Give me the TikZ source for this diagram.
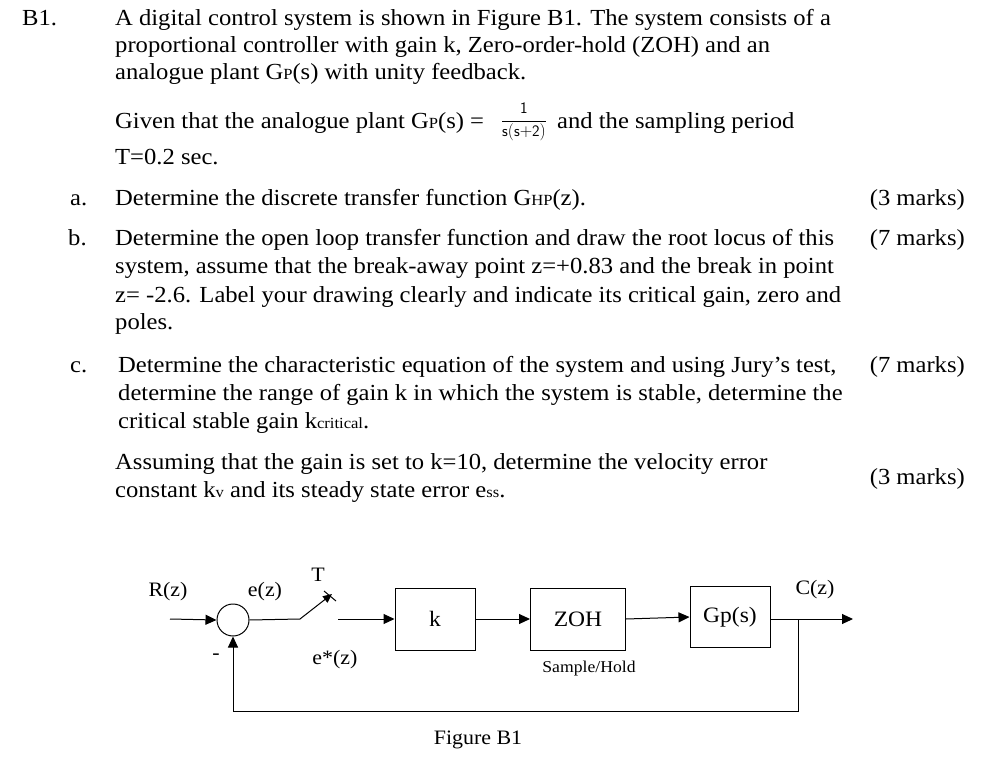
\documentclass[tikz,border=0pt]{standalone}
\usepackage{fontspec}
\setmainfont{Liberation Serif}[FakeStretch=1.07]
\usetikzlibrary{arrows.meta}
\newcommand{\sml}[1]{{\fontsize{15.5}{15}\selectfont #1}}
\begin{document}
\begin{tikzpicture}[x=1pt,y=-1pt,
  txt/.style={anchor=base west,inner sep=0,font=\fontsize{23}{24}\selectfont},
  mk/.style={anchor=base east,inner sep=0,font=\fontsize{23}{24}\selectfont},
  dl/.style={font=\fontsize{20.5}{22}\selectfont,inner sep=0},
  blk/.style={draw,line width=1pt,minimum width=80pt,minimum height=62pt,font=\fontsize{22}{22}\selectfont},
  ar/.style={line width=1pt,-{Triangle[length=11pt,width=10pt]}},
  ln/.style={line width=1pt}]
\useasboundingbox (0,0) rectangle (987,775);
\node[txt] (b1) at (22,26) {B1.};
\node[txt] (l1) at (115,26) {A digital control system is shown in Figure B1. The system consists of a};
\node[txt] (l2) at (115,53) {proportional controller with gain k, Zero-order-hold (ZOH) and an};
\node[txt] (l3) at (115,80) {analogue plant G\sml{P}(s) with unity feedback.};
\node[txt] (l4) at (115,129) {Given that the analogue plant G\sml{P}(s) =};
\node[inner sep=0,font=\fontsize{16}{16}\selectfont\sffamily] (fr) at (524,122) {$\displaystyle\frac{\mathsf{1}}{\mathsf{s(s{+}2)}}$};
\node[txt] (l4b) at (557,129) {and the sampling period};
\node[txt] (l5) at (115,165) {T=0.2 sec.};
\node[txt] (a) at (70,206) {a.};
\node[txt] (at) at (115,206) {Determine the discrete transfer function G\sml{HP}(z).};
\node[mk] (am) at (965,206) {(3 marks)};
\node[txt] (b) at (68,246) {b.};
\node[txt] (b1t) at (115,246) {Determine the open loop transfer function and draw the root locus of this};
\node[mk] (bm) at (965,246) {(7 marks)};
\node[txt] (b2t) at (115,274) {system, assume that the break-away point z=+0.83 and the break in point};
\node[txt] (b3t) at (115,302) {z= -2.6. Label your drawing clearly and indicate its critical gain, zero and};
\node[txt] (b4t) at (115,330) {poles.};
\node[txt] (c) at (70,372) {c.};
\node[txt] (c1t) at (118,372) {Determine the characteristic equation of the system and using Jury's test,};
\node[mk] (cm) at (965,372) {(7 marks)};
\node[txt] (c2t) at (118,400) {determine the range of gain k in which the system is stable, determine the};
\node[txt] (c3t) at (118,428) {critical stable gain k\sml{critical}.};
\node[txt] (d1t) at (115,469) {Assuming that the gain is set to k=10, determine the velocity error};
\node[txt] (d2t) at (115,497) {constant k\sml{v} and its steady state error e\sml{ss}.};
\node[mk] (dm) at (965,484) {(3 marks)};
% diagram
\coordinate (in) at (170,619);
\node[draw,circle,line width=1pt,minimum size=32pt,inner sep=0] (sum) at (233,620) {};
\node[blk] (k) at (435,619) {k};
\node[blk,minimum width=95pt,minimum height=62pt] (zoh) at (578,619) {ZOH};
\node[blk,minimum height=61pt] (gp) at (730,617) {Gp(s)};
\coordinate (s1) at (300,619);
\coordinate (s2) at (332,594);
\coordinate (s3) at (338,619);
\coordinate (tap) at (798,619);
\coordinate (out) at (853,619);
\coordinate (fb1) at (798,711);
\coordinate (fb2) at (233,711);
\draw[ar] (in) -- (sum.west);
\draw[ln] (sum.east) -- (s1);
\draw[ln,-{Triangle[length=9pt,width=8pt]}] (s1) -- (s2);
\draw[ln] (324,591) -- (336,601);
\draw[ar] (s3) -- (k.west);
\draw[ar] (k.east) -- (zoh.west);
\draw[ar] (zoh.east) -- (gp.west);
\draw[ar] (gp.east |- out) -- (out);
\draw[ar] (tap) -- (fb1) -- (fb2) -- (sum.south);
\node[dl] (rz) at (168,592) {R(z)};
\node[dl] (ez) at (265,592) {e(z)};
\node[dl] (tt) at (318,575) {T};
\node[dl] (cz) at (815,590) {C(z)};
\node[dl] (es) at (335,660) {e*(z)};
\node[dl] (mi) at (216,657) {-};
\node[inner sep=0,font=\fontsize{16.5}{18}\selectfont] (sh) at (589,669) {Sample/Hold};
\node[dl] (fig) at (478,740) {Figure B1};
\end{tikzpicture}
\end{document}
